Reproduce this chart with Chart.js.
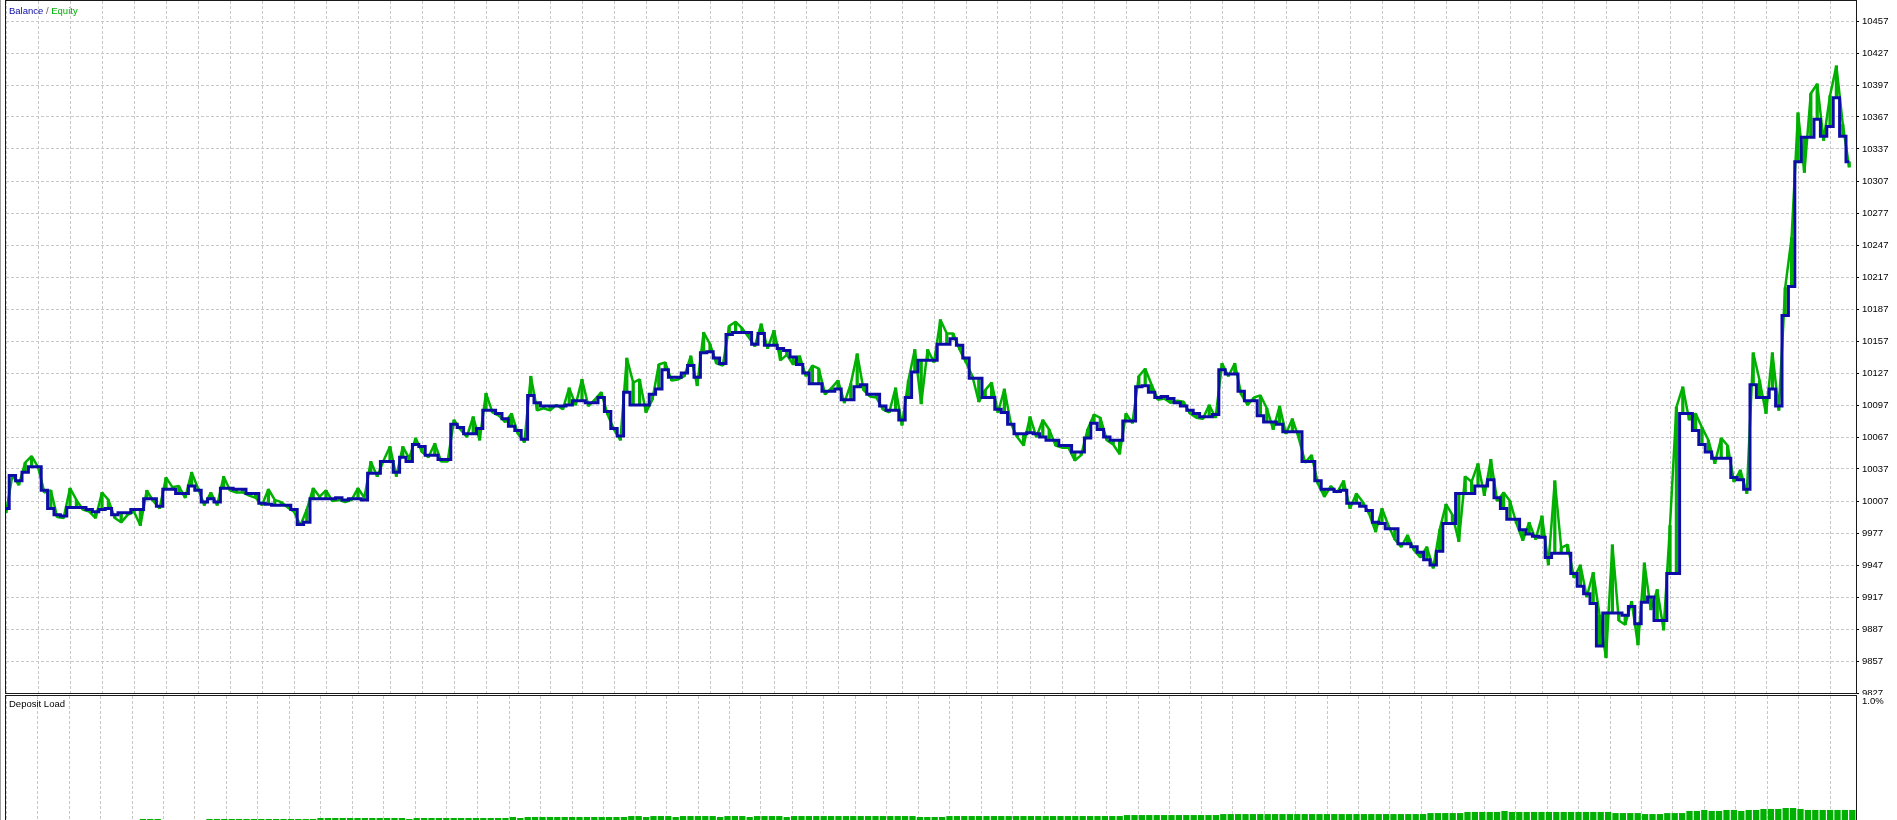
<!DOCTYPE html>
<html>
<head>
<meta charset="utf-8">
<title>Balance / Equity</title>
<script src="https://cdn.jsdelivr.net/npm/chart.js@4.4.1/dist/chart.umd.min.js"></script>
<style>
    html, body { margin: 0; padding: 0; background: #fff; overflow: hidden; }
    #wrap { position: relative; width: 1897px; height: 820px; }
    #equityChart { position: absolute; left: 0; top: 0; }
    #loadChart { position: absolute; left: 0; top: 695px; }
</style>
</head>
<body>
<div id="wrap">
    <canvas id="equityChart" width="1897" height="695"></canvas>
    <canvas id="loadChart" width="1897" height="125"></canvas>
</div>
<script>
// price axis labels
const yTicks = [9827, 9857, 9887, 9917, 9947, 9977, 10007, 10037, 10067, 10097, 10127,
    10157, 10187, 10217, 10247, 10277, 10307, 10337, 10367, 10397, 10427, 10457];

// balance after each trade
const balance = [
    10000, 10031, 10026, 10034, 10039, 10039, 10017, 10000, 9994, 9993,
    10001, 10001, 10001, 9999, 9997, 9999, 10000, 9994, 9996, 9996,
    9999, 9999, 10009, 10009, 10002, 10018, 10018, 10014, 10014, 10021,
    10017, 10006, 10009, 10006, 10019, 10019, 10018, 10018, 10014, 10014,
    10005, 10004, 10003, 10003, 10003, 9999, 9985, 9987, 10009, 10009,
    10009, 10009, 10010, 10008, 10009, 10009, 10008, 10033, 10033, 10044,
    10044, 10034, 10048, 10044, 10060, 10058, 10050, 10050, 10046, 10046,
    10079, 10076, 10070, 10070, 10075, 10092, 10092, 10089, 10084, 10077,
    10073, 10065, 10106, 10099, 10096, 10096, 10096, 10096, 10097, 10101,
    10101, 10099, 10099, 10104, 10091, 10075, 10068, 10109, 10097, 10097,
    10097, 10107, 10112, 10130, 10123, 10123, 10127, 10134, 10123, 10146,
    10147, 10141, 10136, 10163, 10165, 10165, 10165, 10154, 10164, 10153,
    10153, 10150, 10148, 10142, 10135, 10127, 10117, 10117, 10110, 10110,
    10112, 10102, 10102, 10114, 10116, 10107, 10107, 10096, 10092, 10092,
    10083, 10104, 10128, 10139, 10139, 10139, 10154, 10154, 10159, 10153,
    10141, 10122, 10122, 10104, 10104, 10093, 10090, 10079, 10070, 10070,
    10071, 10070, 10067, 10064, 10064, 10059, 10059, 10053, 10053, 10066,
    10080, 10074, 10067, 10064, 10064, 10082, 10082, 10114, 10115, 10109,
    10104, 10105, 10103, 10099, 10096, 10092, 10089, 10086, 10086, 10088,
    10130, 10126, 10126, 10110, 10101, 10101, 10087, 10081, 10081, 10079,
    10072, 10072, 10072, 10044, 10044, 10026, 10018, 10018, 10016, 10017,
    10005, 10005, 10002, 9998, 9987, 9986, 9981, 9981, 9967, 9967,
    9964, 9959, 9952, 9947, 9960, 9986, 9986, 10014, 10014, 10014,
    10021, 10021, 10027, 10010, 10000, 9990, 9990, 9980, 9976, 9974,
    9973, 9954, 9958, 9958, 9958, 9939, 9927, 9920, 9911, 9871,
    9902, 9902, 9902, 9900, 9908, 9892, 9912, 9917, 9895, 9895,
    9939, 9939, 10089, 10089, 10073, 10060, 10053, 10047, 10047, 10047,
    10029, 10027, 10018, 10116, 10104, 10104, 10112, 10096, 10181, 10208,
    10325, 10348, 10348, 10365, 10349, 10358, 10385, 10349, 10325
];

// equity extreme at the same points
const equity = [
    9996, 10031, 10022, 10043, 10049, 10039, 10015, 10017, 9992, 9991,
    10019, 10008, 9999, 9997, 9991, 10015, 10008, 9991, 9987, 9994,
    9997, 9984, 10017, 10007, 10000, 10029, 10020, 10021, 10010, 10034,
    10019, 10003, 10015, 10003, 10030, 10017, 10015, 10015, 10012, 10010,
    10003, 10018, 10008, 10006, 10001, 9997, 9984, 9999, 10019, 10011,
    10017, 10007, 10008, 10006, 10008, 10019, 10010, 10044, 10030, 10045,
    10058, 10030, 10058, 10047, 10066, 10053, 10048, 10061, 10044, 10044,
    10083, 10074, 10067, 10086, 10064, 10108, 10090, 10087, 10081, 10089,
    10070, 10062, 10124, 10092, 10094, 10092, 10097, 10093, 10113, 10097,
    10121, 10096, 10102, 10109, 10088, 10074, 10064, 10141, 10118, 10121,
    10090, 10102, 10135, 10137, 10120, 10121, 10124, 10143, 10115, 10165,
    10154, 10136, 10134, 10171, 10175, 10169, 10161, 10152, 10173, 10150,
    10167, 10139, 10144, 10135, 10143, 10124, 10134, 10131, 10107, 10113,
    10120, 10099, 10117, 10145, 10111, 10105, 10104, 10093, 10090, 10113,
    10078, 10120, 10149, 10098, 10149, 10137, 10177, 10164, 10164, 10149,
    10137, 10124, 10100, 10111, 10118, 10090, 10112, 10080, 10067, 10059,
    10086, 10067, 10083, 10074, 10059, 10057, 10057, 10045, 10050, 10074,
    10088, 10085, 10064, 10060, 10051, 10089, 10080, 10124, 10131, 10116,
    10102, 10103, 10099, 10101, 10100, 10089, 10085, 10084, 10097, 10085,
    10136, 10124, 10136, 10107, 10097, 10104, 10106, 10094, 10074, 10096,
    10070, 10084, 10066, 10043, 10050, 10023, 10011, 10021, 10015, 10026,
    10000, 10014, 10006, 9995, 9978, 10000, 9984, 9971, 9964, 9975,
    9961, 9954, 9964, 9944, 9980, 10004, 9994, 9969, 10030, 10025,
    10042, 10012, 10046, 10007, 10015, 10007, 9986, 9970, 9987, 9971,
    9993, 9947, 10026, 9963, 9966, 9935, 9947, 9917, 9940, 9900,
    9860, 9966, 9895, 9891, 9913, 9872, 9949, 9905, 9924, 9886,
    9984, 10095, 10114, 10083, 10089, 10076, 10064, 10042, 10066, 10059,
    10025, 10036, 10014, 10146, 10120, 10089, 10146, 10092, 10207, 10254,
    10371, 10315, 10389, 10398, 10345, 10387, 10415, 10360, 10320
];

// deposit load, percent
const depositLoad = [
    0, 0, 0, 0, 0, 0, 0, 0, 0, 0,
    0, 0, 0, 0, 0, 0, 0, 0, 0.008, 0.008,
    0.008, 0, 0, 0, 0, 0, 0, 0.008, 0.008, 0.008,
    0.008, 0.008, 0.008, 0.008, 0.008, 0.008, 0.008, 0.008, 0.008, 0.008,
    0.008, 0.008, 0.016, 0.016, 0.016, 0.016, 0.016, 0.016, 0.016, 0.016,
    0.016, 0.016, 0.016, 0.016, 0.008, 0.016, 0.016, 0.016, 0.016, 0.016,
    0.016, 0.016, 0.016, 0.016, 0.016, 0.016, 0.016, 0.016, 0.024, 0.016,
    0.024, 0.024, 0.024, 0.024, 0.024, 0.024, 0.024, 0.024, 0.024, 0.024,
    0.024, 0.024, 0.024, 0.024, 0.032, 0.032, 0.024, 0.032, 0.032, 0.032,
    0.024, 0.032, 0.032, 0.032, 0.032, 0.032, 0.024, 0.032, 0.032, 0.032,
    0.024, 0.032, 0.032, 0.032, 0.032, 0.024, 0.032, 0.032, 0.032, 0.032,
    0.032, 0.032, 0.032, 0.032, 0.032, 0.032, 0.032, 0.032, 0.032, 0.032,
    0.032, 0.032, 0.032, 0.024, 0.024, 0.024, 0.024, 0.032, 0.032, 0.032,
    0.032, 0.032, 0.032, 0.032, 0.032, 0.032, 0.032, 0.032, 0.032, 0.032,
    0.032, 0.032, 0.032, 0.032, 0.032, 0.032, 0.032, 0.032, 0.032, 0.032,
    0.032, 0.04, 0.04, 0.04, 0.04, 0.04, 0.04, 0.04, 0.04, 0.04,
    0.04, 0.04, 0.04, 0.04, 0.048, 0.048, 0.048, 0.048, 0.048, 0.048,
    0.048, 0.048, 0.048, 0.048, 0.048, 0.048, 0.048, 0.048, 0.048, 0.048,
    0.048, 0.048, 0.048, 0.048, 0.048, 0.048, 0.048, 0.048, 0.048, 0.048,
    0.048, 0.048, 0.056, 0.056, 0.056, 0.056, 0.056, 0.065, 0.065, 0.065,
    0.065, 0.065, 0.073, 0.065, 0.065, 0.065, 0.065, 0.065, 0.065, 0.065,
    0.065, 0.065, 0.065, 0.065, 0.065, 0.065, 0.065, 0.056, 0.056, 0.056,
    0.056, 0.048, 0.048, 0.048, 0.056, 0.056, 0.056, 0.073, 0.073, 0.081,
    0.073, 0.073, 0.081, 0.081, 0.073, 0.081, 0.081, 0.089, 0.089, 0.089,
    0.097, 0.097, 0.089, 0.081, 0.081, 0.081, 0.081, 0.081, 0.081, 0.081
];
const loadTicks = [1.0];

const FONT = '"Liberation Sans", Arial, sans-serif';
const GRID = '#c8c8c8';
const BLUE = '#0c0ca6';
const GREEN = '#00b000';
const X_MAX = 289.0625;   // plot width in trade units

// gridline every 5 trades, not tied to labels
function gridTicks(scale) {
    scale.ticks = [];
    for (let v = 0; v <= scale.max; v += 5) scale.ticks.push({ value: v });
}

// black frame round the plot area + thin window edge on the left
const frame = {
    id: 'frame',
    afterDraw(chart) {
        const { ctx, chartArea: a } = chart;
        ctx.save();
        ctx.fillStyle = '#a0a0a0';
        ctx.fillRect(0, 0, 1, chart.height);
        ctx.strokeStyle = '#1a1a1a';
        ctx.lineWidth = 1;
        ctx.strokeRect(a.left - 0.5, a.top - 0.5, a.right - a.left + 1, a.bottom - a.top + 1);
        ctx.restore();
    }
};

// panel caption in the top-left corner
function caption(parts, baseline) {
    return {
        id: 'caption',
        afterDraw(chart) {
            const ctx = chart.ctx;
            ctx.save();
            ctx.font = '9.5px ' + FONT;
            ctx.textBaseline = 'alphabetic';
            let x = 9;
            parts.forEach(p => {
                ctx.fillStyle = p.color;
                ctx.fillText(p.text, x, baseline);
                x += ctx.measureText(p.text).width;
            });
            ctx.restore();
        }
    };
}

new Chart(document.getElementById('equityChart'), {
    type: 'line',
    data: {
        datasets: [{
            label: 'Balance',
            data: balance.map((v, i) => ({ x: i, y: v })),
            borderColor: BLUE,
            borderWidth: 3,
            stepped: 'middle',
            pointRadius: 0,
            order: 0
        }, {
            // equity swings as thin spikes off the balance line
            type: 'bar',
            label: 'Equity spikes',
            data: equity.map((v, i) => ({ x: i, y: [balance[i], v] })),
            backgroundColor: GREEN,
            borderWidth: 0,
            barThickness: 2.6,
            order: 1
        }, {
            label: 'Equity',
            data: equity.map((v, i) => ({ x: i, y: v })),
            borderColor: GREEN,
            borderWidth: 2.5,
            borderJoinStyle: 'bevel',
            pointRadius: 0,
            order: 2
        }]
    },
    options: {
        responsive: false,
        animation: false,
        events: [],
        layout: { padding: { left: 6, top: 1, right: 0, bottom: 2 } },
        plugins: { legend: { display: false }, tooltip: { enabled: false } },
        scales: {
            x: {
                type: 'linear',
                min: 0,
                max: X_MAX,
                offset: false,
                afterBuildTicks: gridTicks,
                afterFit: s => { s.height = 0; s.paddingLeft = 0; s.paddingRight = 0; },
                border: { display: false, dash: [3, 2] },
                grid: { color: GRID, drawTicks: false, offset: false },
                ticks: { display: false }
            },
            y: {
                type: 'linear',
                position: 'right',
                min: 9827,
                max: 10475.75,
                afterBuildTicks: s => { s.ticks = yTicks.map(v => ({ value: v })); },
                afterFit: s => { s.width = 41; s.paddingTop = 0; s.paddingBottom = 0; },
                border: { display: false, dash: [3, 2] },
                grid: { color: GRID, tickLength: 3, tickColor: '#000', tickBorderDash: [] },
                ticks: {
                    padding: 3,
                    color: '#000',
                    font: { family: FONT, size: 9.5 },
                    callback: v => String(v)
                }
            }
        }
    },
    plugins: [frame, caption([
        { text: 'Balance', color: BLUE },
        { text: ' / ', color: '#6b5b4b' },
        { text: 'Equity', color: GREEN }
    ], 14)]
});

new Chart(document.getElementById('loadChart'), {
    type: 'bar',
    data: {
        labels: depositLoad.map((_, i) => i + 1),
        datasets: [{
            label: 'Deposit Load',
            data: depositLoad,
            backgroundColor: GREEN,
            borderWidth: 0,
            barPercentage: 0.85,
            categoryPercentage: 1
        }]
    },
    options: {
        responsive: false,
        animation: false,
        events: [],
        layout: { padding: { left: 6, top: 1, right: 0, bottom: 0 } },
        plugins: { legend: { display: false }, tooltip: { enabled: false } },
        scales: {
            x: {
                type: 'category',
                afterFit: s => { s.height = 0; s.paddingLeft = 0; s.paddingRight = 0; },
                border: { display: false },
                grid: { display: false },
                ticks: { display: false }
            },
            xg: {
                type: 'linear',
                position: 'bottom',
                min: 0,
                max: X_MAX,
                afterBuildTicks: gridTicks,
                afterFit: s => { s.height = 0; s.paddingLeft = 0; s.paddingRight = 0; },
                border: { display: false, dash: [3, 2] },
                grid: { color: GRID, drawTicks: false },
                ticks: { display: false }
            },
            y: {
                type: 'linear',
                position: 'right',
                min: 0,
                max: 1.0,
                afterBuildTicks: s => { s.ticks = loadTicks.map(v => ({ value: v })); },
                afterFit: s => { s.width = 41; s.paddingTop = 0; s.paddingBottom = 0; },
                border: { display: false },
                grid: { display: false, drawTicks: false },
                ticks: {
                    padding: 6,
                    labelOffset: 5.5,
                    color: '#000',
                    font: { family: FONT, size: 9.5 },
                    callback: v => v.toFixed(1) + '%'
                }
            }
        }
    },
    plugins: [frame, caption([{ text: 'Deposit Load', color: '#000' }], 12)]
});
</script>
</body>
</html>
